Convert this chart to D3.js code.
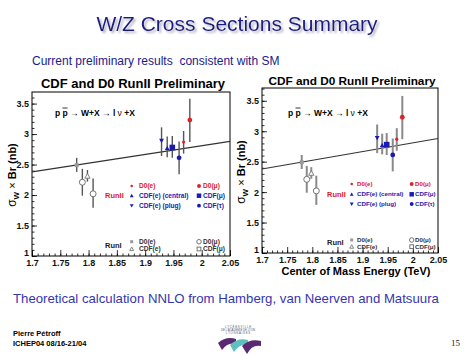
<!DOCTYPE html>
<html><head><meta charset="utf-8">
<script src="https://cdn.jsdelivr.net/npm/d3@7"></script>
<style>body{margin:0;background:#fff}svg{display:block;font-family:"Liberation Sans",Arial,sans-serif}</style>
</head><body><svg id="s" width="474" height="355"></svg>
<script>
// ---------- data ----------
const xTicks = [1.7, 1.75, 1.8, 1.85, 1.9, 1.95, 2, 2.05];
const xTickLabels = ["1.7", "1.75", "1.8", "1.85", "1.9", "1.95", "2", "2.05"];
const yTicks = [1, 1.5, 2, 2.5, 3, 3.5];
const yTickLabels = ["1", "1.5", "2", "2.5", "3", "3.5"];

const pointNames = ["D0(e) RunI", "D0(μ) RunI", "CDF(e) RunI", "CDF(μ) RunI",
  "CDF(e) plug", "CDF(e) central", "CDF(μ)", "CDF(τ)", "D0(e)", "D0(μ)"];
const pointMarkers = ["greysquare", "opencircle", "opentri", "opencircle",
  "tridown", "tri", "square", "circle", "dot", "circle"];
const pointColors = ["#888", "#555", "#555", "#555",
  "#1a1ab4", "#1a1ab4", "#1a1ab4", "#1a1ab4", "#e0202a", "#e0202a"];
const energy = [1.779, 1.789, 1.798, 1.808, 1.929, 1.939, 1.948, 1.960, 1.968, 1.979];
const sigma = [2.49, 2.21, 2.31, 2.02, 2.89, 2.77, 2.78, 2.61, 2.87, 3.23];
const sigmaHigh = [2.61, 2.43, 2.41, 2.27, 3.11, 2.96, 2.97, 2.88, 3.05, 3.58];
const sigmaLow = [2.38, 1.99, 2.22, 1.79, 2.64, 2.62, 2.61, 2.34, 2.68, 2.87];

const theoryEnergy = [1.7, 2.05];
const theorySigma = [2.38, 2.88];

const legendRun2Labels = ["D0(e)", "CDF(e) (central)", "CDF(e) (plug)", "D0(μ)", "CDF(μ)", "CDF(τ)"];
const legendRun2Markers = ["dot", "tri", "tridown", "circle", "square", "circle"];
const legendRun2Colors = ["#e0202a", "#1a1ab4", "#1a1ab4", "#e0202a", "#1a1ab4", "#1a1ab4"];
const legendRun1Labels = ["D0(e)", "CDF(e)", "D0(μ)", "CDF(μ)"];
const legendRun1Markers = ["greysquare", "opentri", "opencircle", "opensquare"];

// ---------- drawing ----------
const svg = d3.select("#s");
const defs = svg.append("defs");
defs.append("filter").attr("id", "sh").attr("x", "-5%").attr("y", "-20%").attr("width", "115%").attr("height", "150%")
  .append("feDropShadow").attr("dx", 2).attr("dy", 2).attr("stdDeviation", 0.8)
  .attr("flood-color", "#9a9ab0").attr("flood-opacity", 0.8);

function marker(g, type, x, y, color, k) {
  k = k || 1;
  const tri = (s, dir) => `M${x},${y - dir * s}L${x + s},${y + dir * s * 0.8}L${x - s},${y + dir * s * 0.8}Z`;
  switch (type) {
    case "dot": g.append("circle").attr("cx", x).attr("cy", y).attr("r", 1.6 * k).attr("fill", color); break;
    case "circle": g.append("circle").attr("cx", x).attr("cy", y).attr("r", 2.4 * k).attr("fill", color); break;
    case "square": g.append("rect").attr("x", x - 2.8 * k).attr("y", y - 2.8 * k).attr("width", 5.6 * k).attr("height", 5.6 * k).attr("fill", color); break;
    case "tri": g.append("path").attr("d", tri(2.4 * k, 1)).attr("fill", color); break;
    case "tridown": g.append("path").attr("d", tri(2.4 * k, -1)).attr("fill", color); break;
    case "greysquare": g.append("rect").attr("x", x - 2 * k).attr("y", y - 2 * k).attr("width", 4 * k).attr("height", 4 * k).attr("fill", "#999"); break;
    case "opencircle": g.append("circle").attr("cx", x).attr("cy", y).attr("r", 3 * k).attr("fill", "#fff").attr("stroke", "#666").attr("stroke-width", 0.9); break;
    case "opentri": g.append("path").attr("d", tri(2.6 * k, 1)).attr("fill", "#fff").attr("stroke", "#777").attr("stroke-width", 0.9); break;
    case "opensquare": g.append("rect").attr("x", x - 2.5 * k).attr("y", y - 2.5 * k).attr("width", 5 * k).attr("height", 5 * k).attr("fill", "#fff").attr("stroke", "#666").attr("stroke-width", 0.9); break;
  }
}

function drawPanel(c) {
  const g = svg.append("g");
  const x = d3.scaleLinear().domain([1.7, 2.05]).range([c.x0, c.x1]);
  const y = d3.scaleLinear().domain([1, c.yMax]).range([c.yb, c.yt]);

  // frame
  g.append("rect").attr("x", c.x0).attr("y", c.yt).attr("width", c.x1 - c.x0).attr("height", c.yb - c.yt)
    .attr("fill", "none").attr("stroke", "#000").attr("stroke-width", 1);

  // minor ticks
  const xMinor = d3.range(170, 206, 1).map(v => v / 100);
  const yMinor = d3.range(10, Math.floor(c.yMax * 10) + 1, 1).map(v => v / 10);
  g.append("g").attr("transform", `translate(0,${c.yb})`)
    .call(d3.axisBottom(x).tickValues(xMinor).tickSize(-2.5).tickFormat(""))
    .call(a => a.select(".domain").remove());
  g.append("g").attr("transform", `translate(${c.x0},0)`)
    .call(d3.axisLeft(y).tickValues(yMinor).tickSize(-2.5).tickFormat(""))
    .call(a => a.select(".domain").remove());
  // major ticks
  const xa = g.append("g").attr("transform", `translate(0,${c.yb})`)
    .call(d3.axisBottom(x).tickValues(xTicks).tickSize(-6).tickPadding(4)
      .tickFormat((d, i) => xTickLabels[i]));
  xa.select(".domain").remove();
  xa.selectAll("text").attr("font-size", 9).attr("font-weight", "bold").attr("fill", "#111")
    .attr("font-family", "Liberation Sans, Arial, sans-serif");
  const ya = g.append("g").attr("transform", `translate(${c.x0},0)`)
    .call(d3.axisLeft(y).tickValues(yTicks).tickSize(-5).tickPadding(3)
      .tickFormat((d, i) => yTickLabels[i]));
  ya.select(".domain").remove();
  ya.selectAll("text").attr("font-size", 9).attr("font-weight", "bold").attr("fill", "#111")
    .attr("font-family", "Liberation Sans, Arial, sans-serif")
    .attr("dy", (d, i) => i === 0 ? "-0.05em" : "0.32em");
  g.selectAll(".tick line").attr("stroke", "#000").attr("stroke-width", 0.8);

  // title
  g.append("text").attr("x", c.titleX).attr("y", c.titleY).attr("text-anchor", "middle")
    .attr("font-size", c.titleSize).attr("font-weight", "bold").attr("fill", "#000")
    .text("CDF and D0 RunII Preliminary");

  // y axis title
  const yt = g.append("text").attr("transform", `translate(${c.ytX},${c.ytY}) rotate(-90)`)
    .attr("text-anchor", "middle").attr("font-size", 11).attr("font-weight", "bold").attr("fill", "#000");
  yt.append("tspan").attr("font-weight", "normal").attr("font-size", 12).text("σ");
  yt.append("tspan").attr("font-size", 8).attr("dy", 3).text("W");
  yt.append("tspan").attr("dy", -3).attr("font-weight", "normal").text(" × ");
  yt.append("tspan").text("Br (nb)");

  if (c.xTitle) {
    g.append("text").attr("x", (c.x0 + c.x1) / 2 + 6).attr("y", c.yb + 22).attr("text-anchor", "middle")
      .attr("font-size", 11).attr("font-weight", "bold").attr("fill", "#000")
      .text("Center of Mass Energy (TeV)");
  }

  // process label
  const pt = g.append("text").attr("x", c.procX).attr("y", c.procY).attr("font-size", 8.5)
    .attr("font-weight", "bold").attr("fill", "#000");
  pt.append("tspan").text("p p");
  pt.append("tspan").attr("font-weight", "normal").text(" → ");
  pt.append("tspan").text("W+X");
  pt.append("tspan").attr("font-weight", "normal").text(" → ");
  pt.append("tspan").text("l ");
  pt.append("tspan").attr("font-weight", "normal").text("ν");
  pt.append("tspan").text(" +X");
  g.append("line").attr("x1", c.procX + 7.5).attr("x2", c.procX + 12.5)
    .attr("y1", c.procY - 8).attr("y2", c.procY - 8).attr("stroke", "#000").attr("stroke-width", 0.8);

  // theory line
  g.append("path").datum(theoryEnergy.map((e, i) => [e, theorySigma[i]]))
    .attr("d", d3.line().x(d => x(d[0])).y(d => y(d[1])))
    .attr("fill", "none").attr("stroke", "#333").attr("stroke-width", 1.1);

  // error bars
  energy.forEach((e, i) => {
    g.append("line").attr("x1", x(e)).attr("x2", x(e)).attr("y1", y(sigmaHigh[i])).attr("y2", y(sigmaLow[i]))
      .attr("stroke", c.errColor).attr("stroke-width", c.errWidth);
  });
  energy.forEach((e, i) => {
    marker(g, pointMarkers[i], x(e), y(sigma[i]), pointColors[i], 1);
  });

  // legend
  const L = c.leg;
  g.append("text").attr("x", L.labX).attr("y", L.r2[1]).attr("dy", "0.35em").attr("font-size", 7.5)
    .attr("font-weight", "bold").attr("fill", "#e0202a").text("RunII");
  legendRun2Labels.forEach((t, i) => {
    const col = Math.floor(i / 3), row = i % 3;
    const mx = col ? L.c2m : L.c1m, tx = col ? L.c2t : L.c1t, yy = L.r2[row];
    marker(g, legendRun2Markers[i], mx, yy, legendRun2Colors[i], 0.8);
    g.append("text").attr("x", tx).attr("y", yy).attr("dy", "0.35em").attr("font-size", L.fs)
      .attr("font-weight", "bold").attr("fill", legendRun2Colors[i]).text(t);
  });
  g.append("text").attr("x", L.labX).attr("y", L.runIy).attr("dy", "0.35em").attr("font-size", 7.5)
    .attr("font-weight", "bold").attr("fill", "#222").text("RunI");
  legendRun1Labels.forEach((t, i) => {
    const col = Math.floor(i / 2), row = i % 2;
    const mx = col ? L.c2m : L.c1m, tx = col ? L.c2t : L.c1t, yy = L.r1[row];
    marker(g, legendRun1Markers[i], mx, yy, "#777", 0.75);
    g.append("text").attr("x", tx).attr("y", yy).attr("dy", "0.35em").attr("font-size", L.fs)
      .attr("font-weight", "bold").attr("fill", "#333").text(t);
  });
}

// slide title
svg.append("text").attr("x", 237).attr("y", 31).attr("text-anchor", "middle").attr("font-size", 21)
  .attr("fill", "#1c1c80").attr("filter", "url(#sh)").text("W/Z Cross Sections Summary");
svg.append("text").attr("x", 32).attr("y", 65).attr("font-size", 12).style("white-space", "pre")
  .attr("fill", "#1a1a8c").text("Current preliminary results  consistent with SM");

drawPanel({
  x0: 32, x1: 230, yb: 256, yt: 92, yMax: 3.69,
  titleX: 133, titleY: 88, titleSize: 13,
  ytX: 16, ytY: 175, xTitle: false,
  procX: 55, procY: 116,
  errColor: "#555", errWidth: 1.4,
  leg: { fs: 6.6, labX: 105, c1m: 131.7, c1t: 139, c2m: 199, c2t: 203, r2: [186, 195.7, 205.7], r1: [241.7, 249], runIy: 245 }
});
drawPanel({
  x0: 262, x1: 438, yb: 253, yt: 88, yMax: 3.71,
  titleX: 352, titleY: 85, titleSize: 11.8,
  ytX: 245, ytY: 172, xTitle: true,
  procX: 288, procY: 116,
  errColor: "#8a8a8a", errWidth: 2,
  leg: { fs: 6.2, labX: 327, c1m: 351.7, c1t: 357, c2m: 411.7, c2t: 415, r2: [184, 194.3, 204], r1: [240, 246.7], runIy: 242.7 }
});

// bottom text
svg.append("text").attr("x", 13).attr("y", 303).attr("font-size", 13.2)
  .attr("fill", "#3535b0").text("Theoretical calculation NNLO from Hamberg, van Neerven and Matsuura");
svg.append("text").attr("x", 13).attr("y", 336).attr("font-size", 7.5).attr("font-weight", "bold")
  .attr("fill", "#000").text("Pierre Pétroff");
svg.append("text").attr("x", 13).attr("y", 346).attr("font-size", 7.5).attr("font-weight", "bold")
  .attr("fill", "#000").text("ICHEP04 08/16-21/04");
svg.append("text").attr("x", 451).attr("y", 346).attr("font-size", 9)
  .attr("font-family", "Liberation Serif, serif").attr("fill", "#222").text("15");

// logo
const logo = svg.append("g");
["L Y C É E S  V I L L E", "DE L'ACADÉMIE DE LYON", "L Y O N N A I S E S"].forEach((t, i) => {
  logo.append("text").attr("x", 238).attr("y", 328 + i * 3.2).attr("text-anchor", "middle")
    .attr("font-size", 2.8).attr("fill", "#556").text(t);
});
logo.append("path").attr("d", "M218,343 Q226,336 236,339 L236,344 Q228,342 222,350 Z").attr("fill", "#5a2a70");
logo.append("path").attr("d", "M230,345 Q238,337 248,340 L248,345 Q240,343 234,352 Z").attr("fill", "#5fc0c0");
logo.append("path").attr("d", "M242,346 Q250,338 261,341 L261,346 Q252,344 247,354 Z").attr("fill", "#5a2a70");
</script></body></html>
